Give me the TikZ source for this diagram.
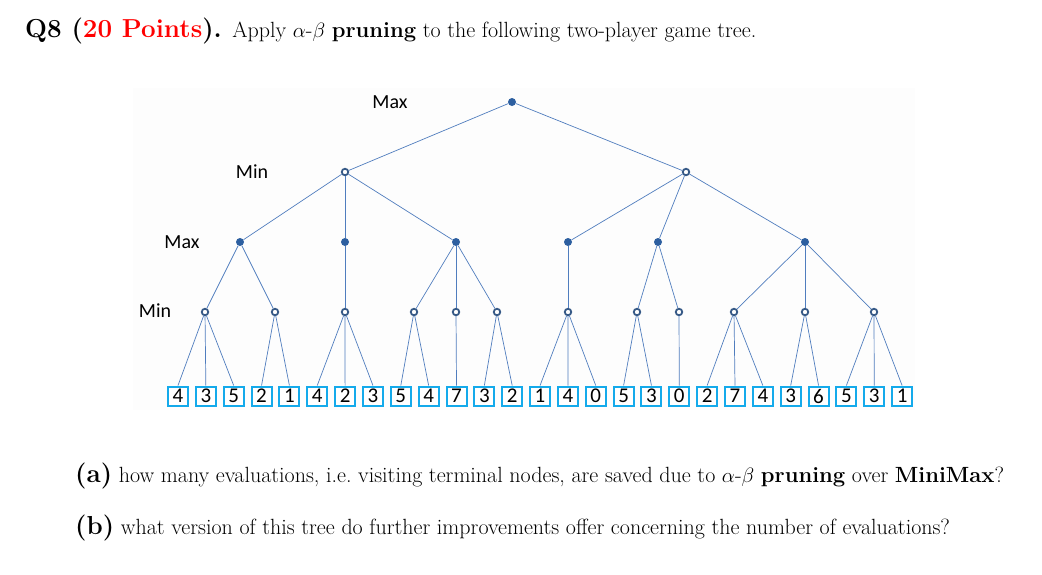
\documentclass[tikz,border=0pt]{standalone}
\usepackage{fontspec}
\newfontfamily\carfont{Carlito}
\begin{document}
\begin{tikzpicture}[x=1pt,y=-1pt,
  edge/.style={draw=edgec,line width=0.7pt},
  maxn/.style={circle,fill=nodec,inner sep=0pt,minimum size=8pt},
  minn/.style={circle,draw=minc,fill=white,line width=1.8pt,inner sep=0pt,minimum size=6.5pt},
  leaf/.style={draw=leafc,line width=2pt,fill=white,minimum width=20pt,minimum height=19pt,inner sep=0pt,font=\carfont\fontsize{21}{21}\selectfont},
  lab/.style={font=\carfont\fontsize{20}{20}\selectfont}]
\definecolor{edgec}{RGB}{80,125,190}
\definecolor{nodec}{RGB}{45,95,160}
\definecolor{minc}{RGB}{55,90,135}
\definecolor{leafc}{RGB}{20,170,235}
\useasboundingbox (0,0) rectangle (1042,574);
\fill[gray!1.5] (133,88) rectangle (915,410);
\node[anchor=west,inner sep=0pt,font=\fontsize{26}{26}\selectfont] (title) at (25,31) {\textbf{Q8 (\textcolor{red}{20 Points}).} {\fontsize{22}{22}\selectfont Apply $\alpha$-$\beta$ \textbf{pruning} to the following two-player game tree.}};
\node[lab] (lmax1) at (390,102) {Max};
\node[lab] (lmin1) at (252,172) {Min};
\node[lab] (lmax2) at (182,242) {Max};
\node[lab] (lmin2) at (155,311) {Min};
\node[maxn] (r) at (512,102) {};
\node[minn] (a1) at (345,172) {};
\node[minn] (a2) at (686,172) {};
\foreach \i/\x in {1/240,2/345,3/456,4/568,5/658,6/805} \node[maxn] (b\i) at (\x,242) {};
\foreach \i/\x in {1/205,2/275,3/345,4/414,5/456,6/497,7/568,8/637,9/679,10/734,11/805,12/874} \node[minn] (c\i) at (\x,312) {};
\foreach \v [count=\i from 0] in {4,3,5,2,1,4,2,3,5,4,7,3,2,1,4,0,5,3,0,2,7,4,3,6,5,3,1}
  \node[leaf] (l\i) at ({178+27.85*\i},396) {\v};
\foreach \p/\c in {r/a1,r/a2,a1/b1,a1/b2,a1/b3,a2/b4,a2/b5,a2/b6,
  b1/c1,b1/c2,b2/c3,b3/c4,b3/c5,b3/c6,b4/c7,b5/c8,b5/c9,b6/c10,b6/c11,b6/c12}
  \draw[edge] (\p) -- (\c);
\foreach \p/\c in {c1/0,c1/1,c1/2,c2/3,c2/4,c3/5,c3/6,c3/7,c4/8,c4/9,c5/10,c6/11,c6/12,
  c7/13,c7/14,c7/15,c8/16,c8/17,c9/18,c10/19,c10/20,c10/21,c11/22,c11/23,c12/24,c12/25,c12/26}
  \draw[edge] (\p) -- (l\c.north);
\node[anchor=west,inner sep=0pt,font=\fontsize{22}{22}\selectfont] (qa) at (75,476) {{\fontsize{26}{26}\selectfont\textbf{(a)}} how many evaluations, i.e.\ visiting terminal nodes, are saved due to $\alpha$-$\beta$ \textbf{pruning} over \textbf{MiniMax}?};
\node[anchor=west,inner sep=0pt,font=\fontsize{22}{22}\selectfont] (qb) at (75,528) {{\fontsize{26}{26}\selectfont\textbf{(b)}} what version of this tree do further improvements offer concerning the number of evaluations?};
\end{tikzpicture}
\end{document}
